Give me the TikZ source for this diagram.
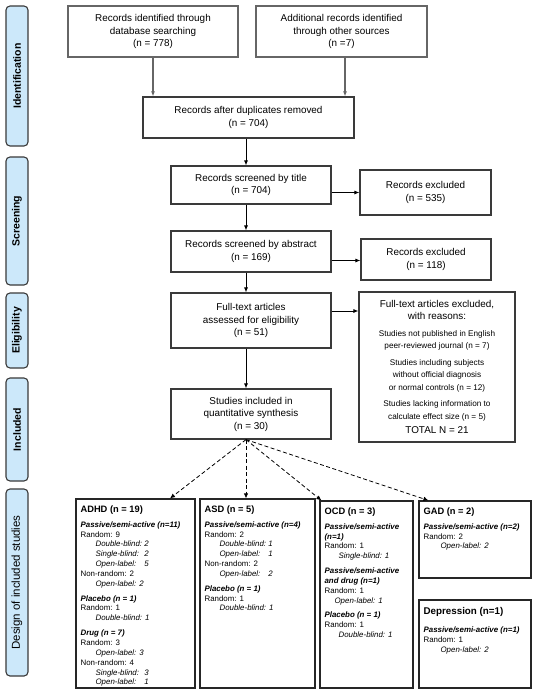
\documentclass[tikz,border=0pt]{standalone}
\usepackage{fontspec}
\setmainfont{Liberation Sans}
\usetikzlibrary{arrows.meta}
\definecolor{bandfill}{HTML}{CCE8FA}
\definecolor{edge}{HTML}{3A3A3A}
\definecolor{greyedge}{HTML}{666666}
\newcommand{\sbi}[1]{\textbf{\textit{#1}}}
\newcommand{\ind}[1]{\hspace*{#1}}
\newlength{\lblw}
\newcommand{\lv}[2]{\settowidth{\lblw}{\itshape Double-blind:\ }\makebox[\lblw][l]{\textit{#1}}\textit{#2}}
\begin{document}
\begin{tikzpicture}[x=1pt,y=-1pt,
  band/.style={draw=edge, line width=1.1pt, fill=bandfill, rounded corners=4pt,
    minimum height=22pt, inner sep=0pt, rotate=90, font=\bfseries\fontsize{10.5}{12}\selectfont},
  box/.style={draw=edge, line width=1.2pt, fill=white, align=center, inner sep=2pt,
    font=\fontsize{9.9}{12.5}\selectfont},
  topbox/.style={box, draw=greyedge},
  smallbox/.style={draw=black!85, line width=1.2pt, fill=white, inner sep=0pt},
  content/.style={anchor=north west, align=left, inner sep=0pt,
    font=\fontsize{7.9}{9.85}\selectfont},
  flow/.style={-{Latex[length=5pt,width=4pt]}, line width=0.8pt, black},
  greyflow/.style={-{Latex[length=5pt,width=4pt]}, line width=1.3pt, greyedge},
  dflow/.style={-{Latex[length=5pt,width=4.5pt]}, line width=0.8pt, black, dash pattern=on 4pt off 2.5pt}
]
\useasboundingbox (0,0) rectangle (539,694);
\fill[white] (0,0) rectangle (539,694);

% side bands
\node[band, minimum width=140pt] (bI) at (17,76) {Identification};
\node[band, minimum width=128pt] (bS) at (17,221) {Screening};
\node[band, minimum width=75pt] (bE) at (17,330.5) {Eligibility};
\node[band, minimum width=103pt] (bN) at (17,429.5) {Included};
\node[band, minimum width=187pt, font=\fontsize{11.5}{13}\selectfont] (bD) at (17,582.5) {Design of included studies};

% main flow boxes
\node[topbox, minimum width=170pt, minimum height=51pt] (db) at (153,31.5)
  {Records identified through\\database searching\\(n = 778)};
\node[topbox, minimum width=171pt, minimum height=51pt] (other) at (341.5,31.5)
  {Additional records identified\\through other sources\\(n =7)};
\node[box, minimum width=211pt, minimum height=41pt] (dup) at (248.5,117.5)
  {Records after duplicates removed\\(n = 704)};
\node[box, minimum width=160pt, minimum height=38pt] (title) at (251,185)
  {Records screened by title\\(n = 704)};
\node[box, minimum width=131pt, minimum height=45pt] (ex1) at (425.5,192.5)
  {Records excluded\\(n = 535)};
\node[box, minimum width=160pt, minimum height=41pt] (abs) at (251,251.5)
  {Records screened by abstract\\(n = 169)};
\node[box, minimum width=130pt, minimum height=41pt] (ex2) at (426,259.5)
  {Records excluded\\(n = 118)};
\node[box, minimum width=160pt, minimum height=55pt] (full) at (251,320.5)
  {Full-text articles\\assessed for eligibility\\(n = 51)};
\node[box, minimum width=156pt, minimum height=150pt] (reasons) at (437,367)
  {Full-text articles excluded,\\with reasons:\\[4pt]
   {\fontsize{8.2}{11}\selectfont Studies not published in English}\\
   {\fontsize{8.2}{11}\selectfont peer-reviewed journal (n = 7)}\\[4pt]
   {\fontsize{8.2}{11}\selectfont Studies including subjects}\\
   {\fontsize{8.2}{11}\selectfont without official diagnosis}\\
   {\fontsize{8.2}{11}\selectfont or normal controls (n = 12)}\\[4pt]
   {\fontsize{8.2}{11}\selectfont Studies lacking information to}\\
   {\fontsize{8.2}{11}\selectfont calculate effect size (n = 5)}\\[2pt]
   TOTAL N = 21};
\node[box, minimum width=160pt, minimum height=50pt] (incl) at (251,414)
  {Studies included in\\quantitative synthesis\\(n = 30)};

% design boxes
\node[smallbox, minimum width=119pt, minimum height=189pt] (adhd) at (135.5,593.5) {};
\node[smallbox, minimum width=115pt, minimum height=189pt] (asd) at (257.5,593.5) {};
\node[smallbox, minimum width=93pt, minimum height=187pt] (ocd) at (366.5,594.5) {};
\node[smallbox, minimum width=112pt, minimum height=77pt] (gad) at (475,539.5) {};
\node[smallbox, minimum width=112pt, minimum height=88pt] (dep) at (475,644) {};

\node[content] (adhdT) at ([xshift=5pt,yshift=-7pt]adhd.north west)
 {{\bfseries\fontsize{9.3}{11}\selectfont ADHD (n = 19)}\\[5pt]
  \sbi{Passive/semi-active (n=11)}\\
  Random: 9\\
  \ind{15pt}\lv{Double-blind:}{2}\\
  \ind{15pt}\lv{Single-blind:}{2}\\
  \ind{15pt}\lv{Open-label:}{5}\\
  Non-random: 2\\
  \ind{15pt}\textit{Open-label: 2}\\[5pt]
  \sbi{Placebo (n = 1)}\\
  Random: 1\\
  \ind{15pt}\textit{Double-blind: 1}\\[5pt]
  \sbi{Drug (n = 7)}\\
  Random: 3\\
  \ind{15pt}\textit{Open-label: 3}\\
  Non-random: 4\\
  \ind{15pt}\lv{Single-blind:}{3}\\
  \ind{15pt}\lv{Open-label:}{1}};

\node[content] (asdT) at ([xshift=5pt,yshift=-7pt]asd.north west)
 {{\bfseries\fontsize{9.3}{11}\selectfont ASD (n = 5)}\\[5pt]
  \sbi{Passive/semi-active (n=4)}\\
  Random: 2\\
  \ind{15pt}\lv{Double-blind:}{1}\\
  \ind{15pt}\lv{Open-label:}{1}\\
  Non-random: 2\\
  \ind{15pt}\lv{Open-label:}{2}\\[5pt]
  \sbi{Placebo (n = 1)}\\
  Random: 1\\
  \ind{15pt}\textit{Double-blind: 1}};

\node[content] (ocdT) at ([xshift=5pt,yshift=-7pt]ocd.north west)
 {{\bfseries\fontsize{9.3}{11}\selectfont OCD (n = 3)}\\[5pt]
  \sbi{Passive/semi-active}\\
  \sbi{(n=1)}\\
  Random: 1\\
  \ind{14pt}\textit{Single-blind: 1}\\[5pt]
  \sbi{Passive/semi-active}\\
  \sbi{and drug (n=1)}\\
  Random: 1\\
  \ind{10pt}\textit{Open-label: 1}\\[5pt]
  \sbi{Placebo (n = 1)}\\
  Random: 1\\
  \ind{14pt}\textit{Double-blind: 1}};

\node[content] (gadT) at ([xshift=5pt,yshift=-7pt]gad.north west)
 {{\bfseries\fontsize{9.3}{11}\selectfont GAD (n = 2)}\\[5pt]
  \sbi{Passive/semi-active (n=2)}\\
  Random: 2\\
  \ind{17pt}\textit{Open-label: 2}};

\node[content] (depT) at ([xshift=5pt,yshift=-8pt]dep.north west)
 {{\bfseries\fontsize{9.8}{11}\selectfont Depression (n=1)}\\[8pt]
  \sbi{Passive/semi-active (n=1)}\\
  Random: 1\\
  \ind{17pt}\textit{Open-label: 2}};

% connectors
\coordinate (spine) at (246,0);
\draw[greyflow] (db.south) -- (db.south |- dup.north);
\draw[greyflow] ([xshift=3.5pt]other.south) -- ([xshift=3.5pt]other.south |- dup.north);
\draw[flow] (dup.south -| spine) -- (title.north -| spine);
\draw[flow] (title.south -| spine) -- (abs.north -| spine);
\draw[flow] (abs.south -| spine) -- (full.north -| spine);
\draw[flow] (full.south -| spine) -- (incl.north -| spine);
\draw[flow] (title.east |- ex1.west) -- (ex1.west);
\draw[flow] ([yshift=-1pt]abs.east |- ex2.west) -- ([yshift=-1pt]ex2.west);
\draw[flow] ([yshift=9.5pt]full.east) -- ([yshift=9.5pt]full.east -| reasons.west);

\draw[dflow] (incl.south -| spine) -- ([xshift=34.5pt]adhd.north);
\draw[dflow] (incl.south -| spine) -- (asd.north -| spine);
\draw[dflow] (incl.south -| spine) -- ([xshift=2pt]ocd.north west);
\draw[dflow] (incl.south -| spine) -- ([xshift=10pt]gad.north west);
\end{tikzpicture}
\end{document}
